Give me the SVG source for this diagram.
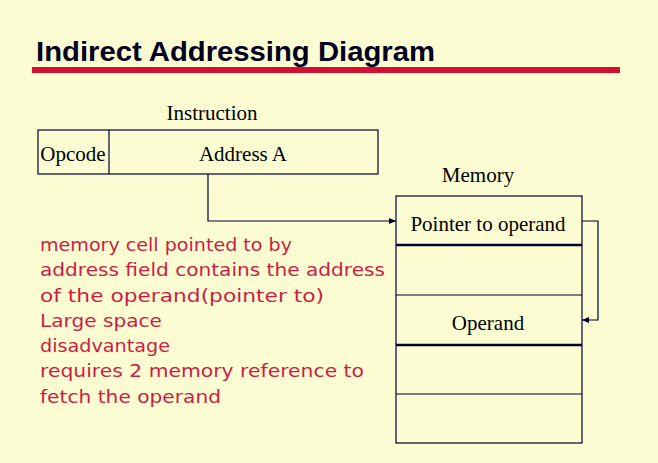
<svg xmlns="http://www.w3.org/2000/svg" width="658" height="463" viewBox="0 0 658 463">
<defs>
<style>
.s{font-family:"Liberation Serif",serif;font-size:21px;fill:#000}
.h{font-family:"DejaVu Sans",sans-serif;font-size:18px;fill:#cc1c44}
.b{fill:none;stroke:#000033;stroke-width:1.2}
</style>
<marker id="a" markerWidth="8" markerHeight="8" refX="7" refY="4" orient="auto" markerUnits="userSpaceOnUse"><path d="M0,1 L7,4 L0,7z" fill="#000033"/></marker>
</defs>
<rect width="658" height="463" fill="#fcfcd2"/>
<text x="36" y="61" font-family="Liberation Sans,sans-serif" font-weight="bold" font-size="27" fill="#000022" textLength="399" lengthAdjust="spacingAndGlyphs">Indirect Addressing Diagram</text>
<rect x="32" y="67" width="588" height="6" fill="#d40f30"/>
<g id="instruction">
<text class="s" x="212" y="120" text-anchor="middle">Instruction</text>
<rect class="b" x="38" y="130" width="340" height="44"/>
<line class="b" x1="109" y1="130" x2="109" y2="174"/>
<text class="s" x="73" y="161" text-anchor="middle">Opcode</text>
<text class="s" x="243" y="161" text-anchor="middle">Address A</text>
</g>
<g id="memory">
<text class="s" x="478" y="182" text-anchor="middle">Memory</text>
<rect class="b" x="396" y="196" width="186" height="247"/>
<line x1="396" y1="245" x2="582" y2="245" stroke="#000033" stroke-width="2.5"/>
<line class="b" x1="396" y1="295" x2="582" y2="295"/>
<line x1="396" y1="345" x2="582" y2="345" stroke="#000033" stroke-width="2.5"/>
<line class="b" x1="396" y1="394" x2="582" y2="394"/>
<text class="s" x="488" y="231" text-anchor="middle">Pointer to operand</text>
<text class="s" x="488" y="330" text-anchor="middle">Operand</text>
</g>
<g id="connectors">
<path class="b" d="M208,174 V221 H396" marker-end="url(#a)"/>
<path class="b" d="M582,221 H598 V320 H582" marker-end="url(#a)"/>
</g>
<g id="notes" class="h">
<text x="40" y="251" textLength="252" lengthAdjust="spacingAndGlyphs">memory cell pointed to by</text>
<text x="40" y="276" textLength="345" lengthAdjust="spacingAndGlyphs">address field contains the address</text>
<text x="40" y="302" textLength="284" lengthAdjust="spacingAndGlyphs">of the operand(pointer to)</text>
<text x="40" y="327" textLength="122" lengthAdjust="spacingAndGlyphs">Large space</text>
<text x="40" y="352" textLength="130" lengthAdjust="spacingAndGlyphs">disadvantage</text>
<text x="40" y="377" textLength="324" lengthAdjust="spacingAndGlyphs">requires 2 memory reference to</text>
<text x="40" y="403" textLength="181" lengthAdjust="spacingAndGlyphs">fetch the operand</text>
</g>
</svg>
